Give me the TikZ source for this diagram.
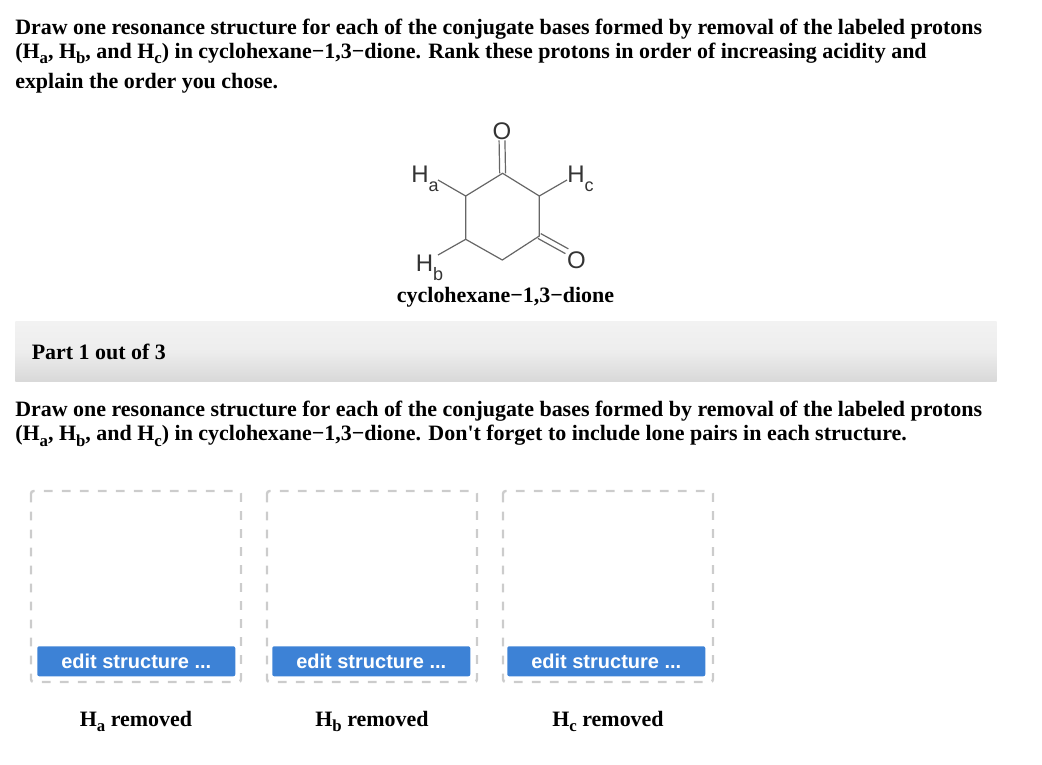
\documentclass[tikz,border=0pt]{standalone}
\usepackage{fontspec}
\setmainfont{Liberation Serif}
\newfontfamily\btnfont{Liberation Sans}
\newcommand{\subletter}[1]{\raisebox{-0.24em}{\fontsize{12.6}{12.6}\selectfont #1}}
\newcommand{\Hsub}[1]{H\subletter{#1}}
\newcommand{\Hatom}[1]{H\raisebox{-0.4em}{\fontsize{13.5}{13.5}\selectfont #1}}
\definecolor{btnblue}{HTML}{3D82D6}
\definecolor{dashgray}{HTML}{CCCCCC}
\definecolor{bondgray}{HTML}{666666}
\definecolor{atomgray}{HTML}{333333}
\tikzset{
    para/.style={anchor=north west, align=left, inner sep=0pt, font=\fontsize{16.47}{18}\selectfont\bfseries},
    caption/.style={anchor=base, inner sep=0pt, font=\fontsize{16.47}{18}\selectfont\bfseries},
    atom/.style={inner sep=0pt, text=atomgray, font=\btnfont\fontsize{18}{18}\selectfont},
    bond/.style={draw=bondgray, line width=0.9pt},
    slot/.style={draw=dashgray, line width=1.8pt, dash pattern=on 6.5pt off 7pt, rounded corners=2pt},
    button/.style={fill=btnblue, rounded corners=1.5pt, text=white, font=\btnfont\fontsize{15}{16}\selectfont\bfseries},
}

\begin{document}
\begin{tikzpicture}[x=0.75pt,y=-0.75pt]
    \useasboundingbox (0,0) rectangle (1042,764);

    % Question
    \node [para] (question) at (15,18.5) {Draw one resonance structure for each of the conjugate bases formed by removal of the labeled protons\\
    (\Hsub{a}, \Hsub{b}, and \Hsub{c}) in cyclohexane−1,3−dione. Rank these protons in order of increasing acidity and\\[4.5pt]
    explain the order you chose.};

    % Molecule
    \coordinate (c1) at (502.6,173.3);
    \coordinate (c2) at (539.3,196);
    \coordinate (c3) at (539.3,236);
    \coordinate (c4) at (502.3,260);
    \coordinate (c5) at (465.7,239.3);
    \coordinate (c6) at (465.7,196);
    \coordinate (haend) at (438,180);
    \coordinate (hbend) at (438,255);
    \coordinate (hcend) at (567,180);
    \node [atom] (otop) at (502,131.5) {O};
    \node [atom] (oright) at (576.5,260) {O};
    \node [atom, anchor=base west] (ha) at (411,182) {\Hatom{a}};
    \node [atom, anchor=base west] (hb) at (415.5,271) {\Hatom{b}};
    \node [atom, anchor=base west] (hc) at (567,182) {\Hatom{c}};
    \draw [bond] (c1) -- (c2) -- (c3) -- (c4) -- (c5) -- (c6) -- cycle;
    \draw [bond] (c6) -- (haend);
    \draw [bond] (c2) -- (hcend);
    \draw [bond] (c5) -- (hbend);
    \draw [bond] ([xshift=-2.2pt]c1) -- ([xshift=-2.2pt]otop.south);
    \draw [bond] ([xshift=2.2pt]c1) -- ([xshift=2.2pt]otop.south);
    \draw [bond] ([shift={(1.1pt,1.8pt)}]c3) -- ([shift={(1.1pt,1.8pt)}]oright.north west);
    \draw [bond] ([shift={(-1.1pt,-1.8pt)}]c3) -- ([shift={(-1.1pt,-1.8pt)}]oright.north west);
    \node [caption] (molname) at (505.5,302) {cyclohexane−1,3−dione};

    % Part banner
    \node [anchor=north west, minimum width=736pt, minimum height=44.8pt, inner sep=0pt,
        top color=black!5, bottom color=black!15, middle color=black!7] (banner) at (15,321) {};
    \node [caption, anchor=base west] (partlabel) at (31.5,359) {Part 1 out of 3};

    \node [para] (task) at (15,401) {Draw one resonance structure for each of the conjugate bases formed by removal of the labeled protons\\
    (\Hsub{a}, \Hsub{b}, and \Hsub{c}) in cyclohexane−1,3−dione. Don\textquotesingle t forget to include lone pairs in each structure.};

    % Answer slots
    \foreach \x/\b/\l in {31/37/a,267/272/b,503/507/c} {
        \draw [slot] (\x,491) rectangle ++(210,191);
        \node [button, anchor=north west, minimum width=148.5pt, minimum height=22.5pt, inner sep=0pt]
            (btn\l) at (\b,646) {edit structure ...};
        \node [caption] (lbl\l) at (\x+105,726) {\Hsub{\l} removed};
    }
\end{tikzpicture}
\end{document}
